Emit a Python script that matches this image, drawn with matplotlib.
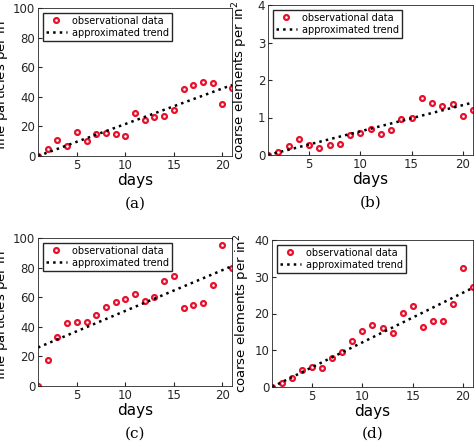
import matplotlib
matplotlib.use("Agg")
import matplotlib.pyplot as plt
import numpy as np

days = np.arange(1, 22)
fine_a = [0, 5, 10.5, 6.5, 16, 10, 15, 15.5, 15, 13.5, 29, 24, 26.5, 27, 31, 45, 48, 50, 49, 35, 46]
coarse_b = [0, 0.08, 0.25, 0.44, 0.27, 0.2, 0.26, 0.29, 0.53, 0.6, 0.7, 0.56, 0.66, 0.97, 0.98, 1.52, 1.4, 1.31, 1.36, 1.03, 1.2]
fine_c = [0, 17.5, 33, 42.5, 43, 43.5, 48, 53.5, 56.5, 58.5, 62, 57.5, 60, 71, 74, 53, 55, 56, 68, 95, 80]
coarse_d = [0, 1, 2.4, 4.7, 5.5, 5.1, 8, 9.6, 12.6, 15.2, 17, 16, 14.6, 20.1, 22, 16.4, 18, 18, 22.6, 32.4, 27.3]
trend_a = [0, 48]
trend_b = [0, 1.4]
trend_c = [26, 81]
trend_d = [0, 27]

panels = [
    (fine_a, trend_a, 100, [0, 20, 40, 60, 80, 100], "fine particles per in$^2$", "(a)", 12),
    (coarse_b, trend_b, 4, [0, 1, 2, 3, 4], "coarse elements per in$^2$", "(b)", 250),
    (fine_c, trend_c, 100, [0, 20, 40, 60, 80, 100], "fine particles per in$^2$", "(c)", 12),
    (coarse_d, trend_d, 40, [0, 10, 20, 30, 40], "coarse elements per in$^2$", "(d)", 252),
]
rects = [
    [38/474, 1-156/443, 194/474, 148/443],
    [268/474, 1-155/443, 205/474, 150/443],
    [38/474, 1-386/443, 194/474, 148/443],
    [272/474, 1-387/443, 201/474, 147/443],
]

fig = plt.figure(figsize=(4.74, 4.43), dpi=100)
for (vals, tr, ymax, yt, ylab, cap, lx), r in zip(panels, rects):
    ax = fig.add_axes(r)
    ax.plot(days, vals, 'o', mfc='none', mec='#e8112d', mew=1.6, ms=3.5, label='observational data')
    ax.plot([1, 21], tr, ':', color='black', lw=1.8, label='approximated trend')
    ax.set_xlim(1, 21)
    ax.set_ylim(0, ymax)
    ax.set_xticks([5, 10, 15, 20])
    ax.set_yticks(yt)
    ax.tick_params(labelsize=8.5, direction='in', length=3, colors='#262626', pad=2)
    ax.set_xlabel('days', fontsize=11, labelpad=1)
    ax.set_ylabel(ylab, fontsize=9.5)
    ax.yaxis.set_label_coords((lx/474 - r[0]) / r[2], 0.5)
    for s in ax.spines.values():
        s.set_color('#262626'); s.set_linewidth(0.6)
    ax.legend(loc='upper left', fontsize=7, frameon=True, fancybox=False, framealpha=1,
              edgecolor='#262626', borderpad=0.3, handlelength=2.2, labelspacing=0.2,
              handletextpad=0.5)
    ax.text(0.5, -0.32, cap, transform=ax.transAxes, ha='center', va='center', fontsize=11,
            family='DejaVu Serif')
fig.savefig('out.png', dpi=100)
